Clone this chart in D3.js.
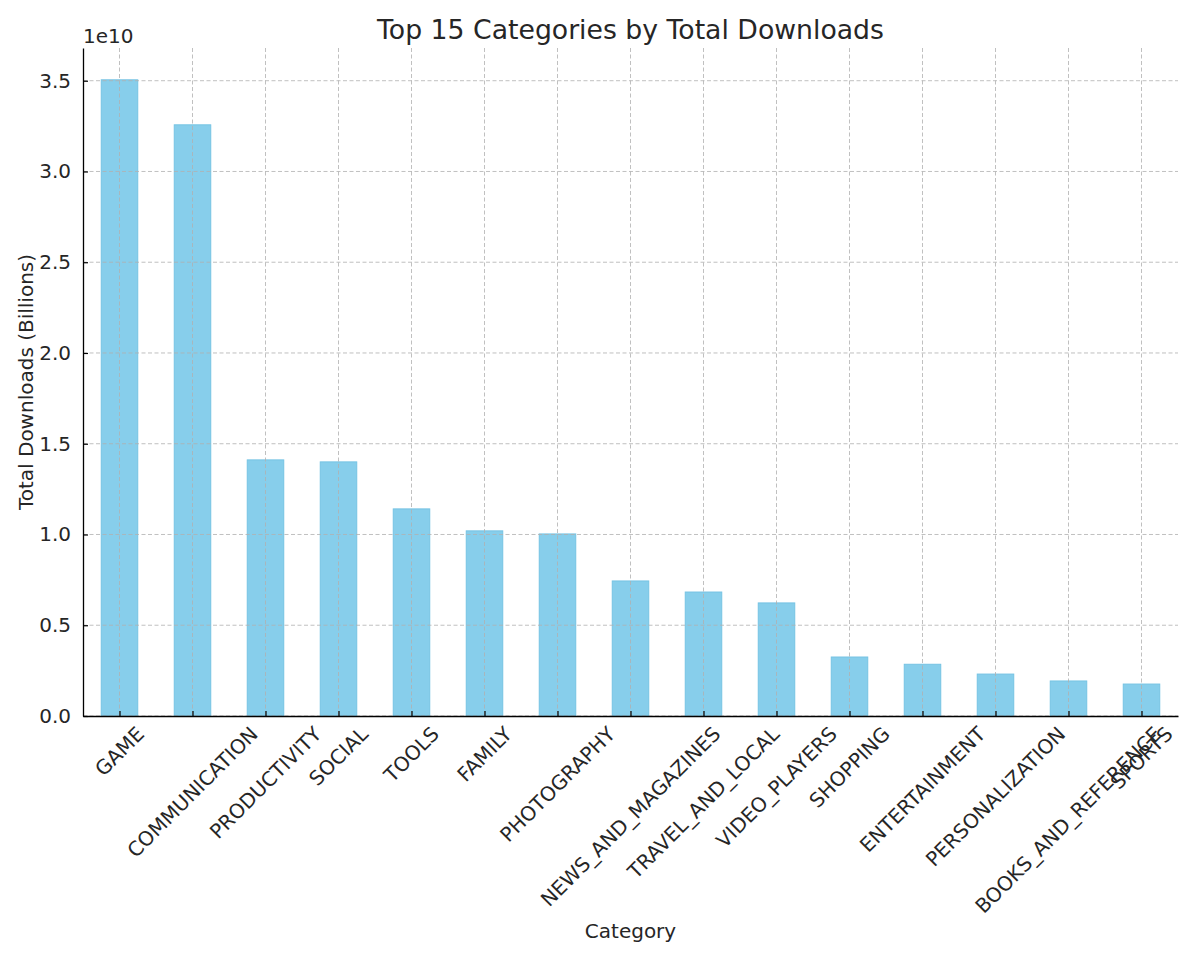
<!DOCTYPE html>
<html>
<head>
<meta charset="utf-8">
<script src="https://cdn.jsdelivr.net/npm/d3@7"></script>
<style>
  body { margin: 0; background: #fff; }
  text { font-family: "DejaVu Sans", sans-serif; fill: #262626; }
</style>
</head>
<body>
<script>
// data (values in units of 1e10)
const categories = ["GAME", "COMMUNICATION", "PRODUCTIVITY", "SOCIAL", "TOOLS", "FAMILY",
  "PHOTOGRAPHY", "NEWS_AND_MAGAZINES", "TRAVEL_AND_LOCAL", "VIDEO_PLAYERS", "SHOPPING",
  "ENTERTAINMENT", "PERSONALIZATION", "BOOKS_AND_REFERENCE", "SPORTS"]
const downloads = [3.505, 3.257, 1.411, 1.400, 1.141, 1.020, 1.003, 0.744, 0.683, 0.623,
  0.325, 0.285, 0.231, 0.193, 0.176]
const yTicks = [0, 0.5, 1.0, 1.5, 2.0, 2.5, 3.0, 3.5]

const width = 1200
const height = 960
const margin = { top: 48, right: 22, bottom: 244, left: 83 }
const innerW = width - margin.left - margin.right
const innerH = height - margin.top - margin.bottom

const svg = d3.select("body")
    .append("svg")
    .attr("width", width)
    .attr("height", height)

const g = svg.append("g")
    .attr("transform", `translate(${margin.left},${margin.top})`)

// pandas-style: bars at integer positions, width 0.5, xlim -0.5..n-0.5
const x = d3.scaleLinear()
    .domain([-0.5, categories.length - 0.5])
    .range([0, innerW])

const y = d3.scaleLinear()
    .domain([0, d3.max(downloads) * 1.05])
    .range([innerH, 0])

// bars
g.selectAll("rect.bar")
    .data(downloads)
    .enter()
    .append("rect")
    .attr("class", "bar")
    .attr("x", (d, i) => x(i - 0.25))
    .attr("width", x(0.25) - x(-0.25))
    .attr("y", d => y(d))
    .attr("height", d => innerH - y(d))
    .attr("fill", "#87ceeb")
    .attr("stroke", "#76c3e3")
    .attr("stroke-width", 1)

// grid on top of bars
const grid = g.append("g").attr("class", "grid")
grid.selectAll("line.h")
    .data(yTicks)
    .enter()
    .append("line")
    .attr("x1", 0)
    .attr("x2", innerW)
    .attr("y1", d => y(d))
    .attr("y2", d => y(d))
grid.selectAll("line.v")
    .data(categories)
    .enter()
    .append("line")
    .attr("x1", (d, i) => x(i))
    .attr("x2", (d, i) => x(i))
    .attr("y1", 0)
    .attr("y2", innerH)
grid.selectAll("line")
    .attr("stroke", "#b0b0b0")
    .attr("stroke-opacity", 0.8)
    .attr("stroke-width", 1)
    .attr("stroke-dasharray", "4,2.5")

// y axis
const yAxis = g.append("g")
    .call(d3.axisLeft(y).tickValues(yTicks).tickFormat(d3.format(".1f")).tickSizeInner(-5).tickSizeOuter(0).tickPadding(12))
yAxis.select(".domain").attr("stroke", "#000").attr("stroke-width", 1.3)
yAxis.selectAll(".tick line").attr("stroke", "#000").attr("stroke-width", 1.2)
yAxis.selectAll("text").style("font-size", "20px").attr("fill", "#262626")

// x axis (ticks inward)
const xAxis = g.append("g")
    .attr("transform", `translate(0,${innerH})`)
    .call(d3.axisBottom(x).tickValues(d3.range(categories.length)).tickFormat("").tickSizeInner(-5).tickSizeOuter(0))
xAxis.select(".domain").attr("stroke", "#000").attr("stroke-width", 1.3)
xAxis.selectAll(".tick line").attr("stroke", "#000").attr("stroke-width", 1.2)

// rotated labels, bbox centered under tick (matplotlib rotation=45, ha=center)
const labelTop = innerH + 7
const fs = 20
g.selectAll("text.xlab")
    .data(categories)
    .enter()
    .append("text")
    .attr("class", "xlab")
    .style("font-size", fs + "px")
    .attr("text-anchor", "middle")
    .attr("dominant-baseline", "central")
    .text(d => d)
    .each(function (d, i) {
        const w = this.getComputedTextLength()
        const h = fs * 1.05
        const side = (w + h) / Math.SQRT2
        const cx = x(i)
        const cy = labelTop + side / 2
        d3.select(this)
            .attr("x", cx)
            .attr("y", cy)
            .attr("transform", `rotate(-45,${cx},${cy})`)
    })

// offset text
g.append("text")
    .attr("x", 0)
    .attr("y", -5)
    .style("font-size", "20px")
    .text("1e10")

// title
svg.append("text")
    .attr("x", margin.left + innerW / 2)
    .attr("y", 39)
    .attr("text-anchor", "middle")
    .style("font-size", "26.7px")
    .text("Top 15 Categories by Total Downloads")

// axis labels
svg.append("text")
    .attr("x", margin.left + innerW / 2)
    .attr("y", 938)
    .attr("text-anchor", "middle")
    .style("font-size", "20px")
    .text("Category")

svg.append("text")
    .attr("transform", `translate(33,${margin.top + innerH / 2}) rotate(-90)`)
    .attr("text-anchor", "middle")
    .style("font-size", "20px")
    .text("Total Downloads (Billions)")
</script>
</body>
</html>
